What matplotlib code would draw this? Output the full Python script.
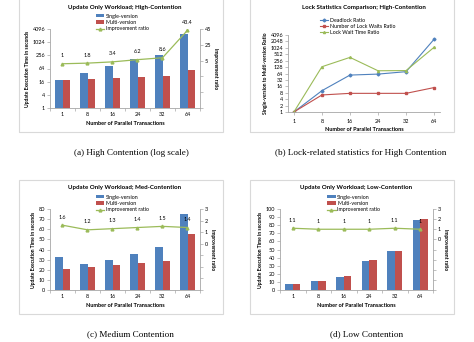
import numpy as np
import matplotlib.pyplot as plt
from matplotlib.patches import Rectangle
from matplotlib.ticker import FuncFormatter

plt.rcParams['font.family'] = ['Lato', 'DejaVu Sans']

# dados extraidos das quatro figuras
categorias = ['1', '8', '16', '24', '32', '64']

alta_single = [19, 40, 82, 168, 258, 2400]
alta_multi = [20, 22, 24, 27, 30, 55]
alta_ratio = [1, 1.8, 3.4, 6.2, 8.6, 43.4]

deadlock_ratio = [1, 10, 54, 60, 78, 2600]
lock_waits_ratio = [1, 6.3, 7.5, 7.5, 7.5, 14]
lock_wait_time_ratio = [1, 133, 365, 86, 88, 1090]

media_single = [32.5, 26, 30, 36, 42.5, 75.5]
media_multi = [20.5, 23, 24.5, 27, 29, 55.5]
media_ratio = [1.6, 1.2, 1.3, 1.4, 1.5, 1.4]

baixa_single = [7.5, 11, 16, 36, 48, 87]
baixa_multi = [7, 11, 17.5, 37, 48, 88]
baixa_ratio = [1.1, 1, 1, 1, 1.1, 1]

AZUL = '#4F81BD'
VERMELHO = '#C0504D'
VERDE = '#9BBB59'
CINZA = '#a6a6a6'

W, H = 474, 342
fig = plt.figure(figsize=(W / 100, H / 100), dpi=100)


def eixo(x0, y0, x1, y1):
    # converte caixa em pixels (origem no topo) para coordenadas da figura
    return fig.add_axes([x0 / W, 1 - y1 / H, (x1 - x0) / W, (y1 - y0) / H])


def moldura(x0, y0, x1, y1):
    fig.add_artist(Rectangle((x0 / W, 1 - y1 / H), (x1 - x0) / W, (y1 - y0) / H,
                             transform=fig.transFigure, fill=False,
                             edgecolor='#d9d9d9', linewidth=0.8))


def estilo(ax):
    for s in ['top', 'right']:
        ax.spines[s].set_visible(False)
    for s in ['left', 'bottom']:
        ax.spines[s].set_color(CINZA)
        ax.spines[s].set_linewidth(0.6)
    ax.tick_params(axis='y', labelsize=4, length=2, width=0.5, color=CINZA, pad=1.5)
    ax.tick_params(axis='x', labelsize=4, length=0, pad=3)


def grafico_barras(caixa, single, multi, ratio, titulo, yl, ylim, yticks,
                   rlim, rticks, log=False, titulo_y=7, leg_y=15):
    ax = eixo(*caixa)
    x = np.arange(len(categorias))
    w = 0.29
    ax.bar(x - w / 2, single, w, color=AZUL, label='Single-version')
    ax.bar(x + w / 2, multi, w, color=VERMELHO, label='Multi-version')
    if log:
        ax.set_yscale('log', base=2)
    ax.set_ylim(*ylim)
    ax.set_yticks(yticks)
    ax.set_yticklabels([str(t) for t in yticks])
    ax.minorticks_off()
    ax.set_xlim(-0.5, len(categorias) - 0.5)
    ax.set_xticks(x)
    ax.set_xticklabels(categorias)
    ax.set_xticks(np.arange(len(categorias) + 1) - 0.5, minor=True)
    ax.tick_params(axis='x', which='minor', length=2, width=0.5, color=CINZA)
    estilo(ax)
    ax.set_ylabel(yl, fontsize=3.6, fontweight='bold', labelpad=2)
    ax.set_xlabel('Number of Parallel Transactions', fontsize=4, fontweight='bold', labelpad=3)

    ax2 = ax.twinx()
    ax2.plot(x, ratio, color=VERDE, marker='^', markersize=2, linewidth=0.9,
             label='Improvement ratio')
    for xi, r in zip(x, ratio):
        ax2.annotate(f'{r:g}', (xi, r), xytext=(0, 4), textcoords='offset points',
                     ha='center', va='bottom', fontsize=4)
    ax2.set_ylim(*rlim)
    ax2.set_yticks(rticks)
    ax2.yaxis.set_major_formatter(FuncFormatter(lambda v, p: f'{v:g}' if v >= 0 else ''))
    for s in ['top', 'left', 'bottom']:
        ax2.spines[s].set_visible(False)
    ax2.spines['right'].set_color(CINZA)
    ax2.spines['right'].set_linewidth(0.6)
    ax2.tick_params(axis='y', labelsize=4, length=2, width=0.5, color=CINZA, pad=1.5)
    ax2.set_ylabel('Improvement ratio', fontsize=3.6, fontweight='bold',
                   rotation=270, labelpad=5)

    cx = (caixa[0] + caixa[2]) / 2
    fig.text(cx / W, 1 - titulo_y / H, titulo, ha='center', va='center',
             fontsize=4.4, fontweight='bold')
    h1, l1 = ax.get_legend_handles_labels()
    h2, l2 = ax2.get_legend_handles_labels()
    fig.legend(h1 + h2, l1 + l2, loc='upper left',
               bbox_to_anchor=((cx - 32) / W, 1 - (leg_y - 4) / H),
               fontsize=3.8, frameon=False, handlelength=1.6, handleheight=0.6,
               labelspacing=0.25, borderpad=0, handletextpad=0.3)
    return ax


# (a) alta contencao, escala log
moldura(19, -2, 223, 132)
grafico_barras((50, 29, 200, 108), alta_single, alta_multi, alta_ratio,
               'Update Only Workload; High-Contention',
               'Update Execution Time in seconds',
               (1, 4096), [1, 4, 16, 64, 256, 1024, 4096],
               (-55, 45), [-55, -35, -15, 5, 25, 45], log=True)

# (b) estatisticas de lock
moldura(250, -2, 454, 132)
axb = eixo(288, 35, 440, 112)
xb = np.arange(len(categorias))
axb.plot(xb, deadlock_ratio, color=AZUL, marker='D', markersize=1.5, linewidth=0.8,
         label='Deadlock Ratio')
axb.plot(xb, lock_waits_ratio, color=VERMELHO, marker='s', markersize=1.5, linewidth=0.8,
         label='Number of Lock Waits Ratio')
axb.plot(xb, lock_wait_time_ratio, color=VERDE, marker='^', markersize=1.5, linewidth=0.8,
         label='Lock Wait Time Ratio')
axb.set_yscale('log', base=2)
ticks_b = [2 ** i for i in range(13)]
axb.set_ylim(1, 4096)
axb.set_yticks(ticks_b)
axb.set_yticklabels([str(t) for t in ticks_b])
axb.minorticks_off()
axb.set_xlim(-0.21, 5.21)
axb.set_xticks(xb)
axb.set_xticklabels(categorias)
estilo(axb)
axb.tick_params(axis='x', length=2, width=0.5, color=CINZA)
axb.set_ylabel('Single-version to Multi-version Ratio', fontsize=3.6, fontweight='bold', labelpad=2)
axb.set_xlabel('Number of Parallel Transactions', fontsize=4, fontweight='bold', labelpad=2)
fig.text(364 / W, 1 - 7 / H, 'Lock Statistics Comparison; High-Contention',
         ha='center', va='center', fontsize=4.4, fontweight='bold')
fig.legend(*axb.get_legend_handles_labels(), loc='upper left',
           bbox_to_anchor=(317 / W, 1 - 15 / H), fontsize=3.8, frameon=False,
           handlelength=1.6, labelspacing=0.25, borderpad=0, handletextpad=0.3)

# (c) media contencao
moldura(19, 180, 223, 314)
grafico_barras((50, 209, 200, 290), media_single, media_multi, media_ratio,
               'Update Only Workload; Med-Contention',
               'Update Execution Time in seconds',
               (0, 80), list(range(0, 81, 10)),
               (-4, 3), list(range(-4, 4)), titulo_y=188, leg_y=196)

# (d) baixa contencao
moldura(250, 180, 454, 314)
grafico_barras((280, 209, 433, 290), baixa_single, baixa_multi, baixa_ratio,
               'Update Only Workload; Low-Contention',
               'Update Execution Time in seconds',
               (0, 100), list(range(0, 101, 10)),
               (-5, 3), list(range(-5, 4)), titulo_y=188, leg_y=196)

# legendas das subfiguras
legendas = [(131, 153, '(a) High Contention (log scale)'),
            (361, 153, '(b) Lock-related statistics for High Contention'),
            (130, 334, '(c) Medium Contention'),
            (367, 334, '(d) Low Contention')]
for cx, cy, txt in legendas:
    fig.text(cx / W, 1 - cy / H, txt, ha='center', va='center',
             fontsize=6.6, family=['Liberation Serif', 'DejaVu Serif'])

fig.savefig('out.png', dpi=100)
